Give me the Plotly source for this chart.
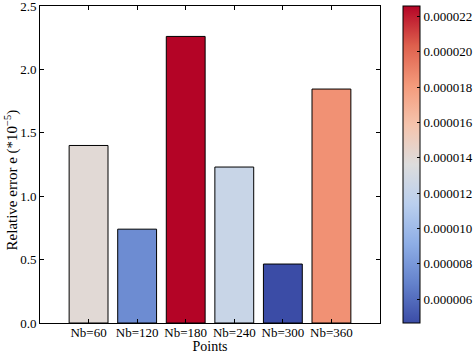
import plotly.graph_objects as go

categories = ["Nb=60", "Nb=120", "Nb=180", "Nb=240", "Nb=300", "Nb=360"]
errors_e5 = [1.40, 0.74, 2.26, 1.23, 0.465, 1.845]
errors = [v * 1e-5 for v in errors_e5]
cbar_ticks = [6e-6, 8e-6, 10e-6, 12e-6, 14e-6, 16e-6, 18e-6, 20e-6, 22e-6]
y_ticks = [0.0, 0.5, 1.0, 1.5, 2.0, 2.5]

coolwarm = [
    [0.0, "#3b4ca6"], [0.125, "#6482cc"], [0.25, "#8eaee6"], [0.375, "#bacfee"],
    [0.5, "#dddddd"], [0.625, "#f5c4ad"], [0.75, "#f49a7b"], [0.875, "#de604d"],
    [1.0, "#b40426"],
]

FAM = "Liberation Serif, Times New Roman, serif"
font = dict(family=FAM, size=13, color="black")

fig = go.Figure()
fig.add_trace(go.Bar(
    x=categories, y=errors_e5, width=0.8,
    marker=dict(
        color=errors, colorscale=coolwarm, cmin=min(errors), cmax=max(errors),
        line=dict(color="black", width=1),
        showscale=True,
        colorbar=dict(
            x=1.068, xanchor="left", y=0, yanchor="bottom", len=1, lenmode="fraction",
            thickness=17, outlinecolor="black", outlinewidth=1,
            tickvals=cbar_ticks, tickformat=".6f", ticks="inside", ticklen=3,
            tickcolor="black", tickfont=font, xpad=0, ypad=0,
        ),
    ),
    showlegend=False,
))

fig.update_layout(
    width=474, height=354,
    margin=dict(l=40, r=94, t=6, b=31, autoexpand=False),
    paper_bgcolor="white", plot_bgcolor="white",
    font=font,
    bargap=0.2,
)
fig.add_annotation(
    text="Relative error e (*10<sup>−5</sup>)", textangle=-90,
    xref="paper", yref="paper", x=-0.085, y=0.45, xanchor="center", yanchor="middle",
    showarrow=False, font=dict(family=FAM, size=15, color="black"),
)
fig.update_xaxes(
    type="category", range=[-1, 6], showline=True, linecolor="black", linewidth=1,
    mirror="ticks", ticks="inside", ticklen=4, tickcolor="black", automargin=False,
    ticklabelstandoff=-3,
    title=dict(text="Points", standoff=4, font=dict(family=FAM, size=14, color="black")),
    showgrid=False,
)
fig.update_yaxes(
    range=[0, 2.5], tickvals=y_ticks, tickformat=".1f", showline=True, linecolor="black",
    linewidth=1, mirror="ticks", ticks="inside", ticklen=4, tickcolor="black",
    ticklabeloverflow="allow", automargin=False,
    showgrid=False, zeroline=False,
)

fig.write_html("out.html")
